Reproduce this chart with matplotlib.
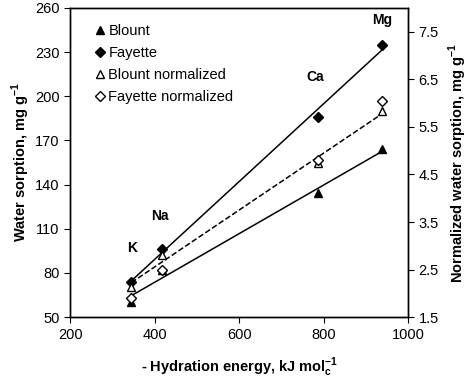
import numpy as np
import matplotlib
matplotlib.use("Agg")
import matplotlib.pyplot as plt

plt.rcParams['font.family'] = ['Liberation Sans', 'DejaVu Sans']

ions = ["K", "Na", "Ca", "Mg"]
hydration = [345, 417, 786, 938]
blount = [60.5, 82, 134.5, 164]
fayette = [74, 96, 186, 235]
blount_norm = [2.13, 2.8, 4.75, 5.84]
fayette_norm = [1.9, 2.49, 4.8, 6.05]
label_pos = [(347, 97), (413, 119), (780, 213), (938, 252)]

x = np.array(hydration, dtype=float)
xf = np.array([x.min(), x.max()])

fig = plt.figure(figsize=(4.74, 3.78), dpi=100)
ax = fig.add_axes([0.148, 0.161, 0.713, 0.818])
ax2 = ax.twinx()

# fit lines
for yv, a, ls in [(blount, ax, '-'), (fayette, ax, '-'), (blount_norm, ax2, '--')]:
    p = np.polyfit(x, yv, 1)
    a.plot(xf, np.polyval(p, xf), color='black', lw=1.1, ls=ls, zorder=2)

h1, = ax.plot(x, blount, ls='none', marker='^', ms=6, color='black', label='Blount', zorder=3)
h2, = ax.plot(x, fayette, ls='none', marker='D', ms=4.8, color='black', label='Fayette', zorder=3)
h3, = ax2.plot(x, blount_norm, ls='none', marker='^', ms=6, mfc='white', mec='black', mew=1,
               label='Blount normalized', zorder=4)
h4, = ax2.plot(x, fayette_norm, ls='none', marker='D', ms=4.8, mfc='white', mec='black', mew=1,
               label='Fayette normalized', zorder=4)

for name, (px, py) in zip(ions, label_pos):
    ax.text(px, py, name, fontsize=10, fontweight='bold', ha='center', va='center')

ax.set_xlim(200, 1000)
ax.set_ylim(50, 260)
ax.set_xticks([200, 400, 600, 800, 1000])
ax.set_yticks(np.arange(50, 261, 30))
ax2.set_ylim(1.5, 8.0)
ax2.set_yticks([1.5, 2.5, 3.5, 4.5, 5.5, 6.5, 7.5])
ax2.set_yticklabels(['1.5', '2.5', '3.5', '4.5', '5.5', '6.5', '7.5'])

for a in (ax, ax2):
    a.tick_params(labelsize=10.5, direction='out', length=4, width=0.8)
    for s in a.spines.values():
        s.set_linewidth(1.0)

ax.set_xlabel('- Hydration energy, kJ mol$_\\mathregular{c}^{\\mathregular{-1}}$', fontsize=10.5,
              fontweight='bold', labelpad=10)
ax.set_ylabel('Water sorption, mg g$^{\\mathregular{-1}}$', fontsize=10.5, fontweight='bold', labelpad=2)
ax2.set_ylabel('Normalized water sorption, mg g$^{\\mathregular{-1}}$', fontsize=10.5,
               fontweight='bold', labelpad=6)

leg = ax.legend(handles=[h1, h2, h3, h4], loc='upper left', bbox_to_anchor=(0.04, 0.975),
                frameon=False, fontsize=10.5, handletextpad=0.1, handlelength=1.0,
                labelspacing=0.55, borderaxespad=0.2)
leg.set_zorder(10)

fig.savefig('out.png', dpi=100)
